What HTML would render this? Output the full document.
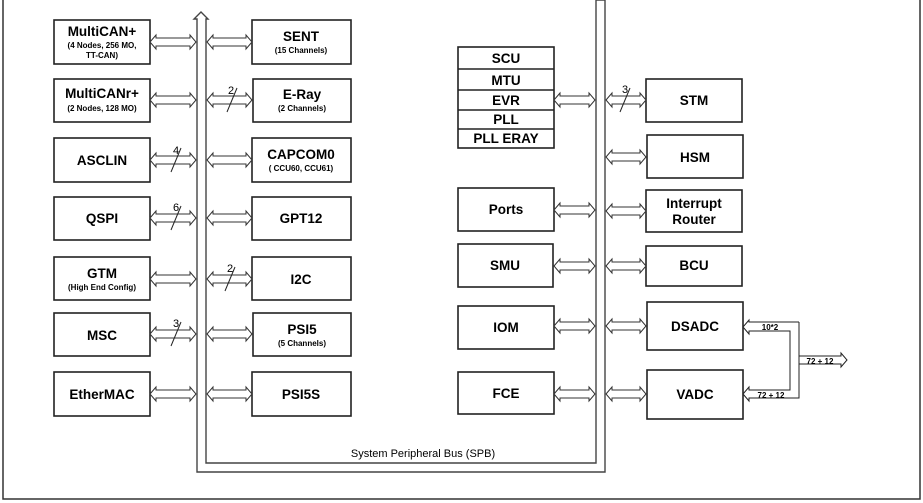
<!DOCTYPE html>
<html><head><meta charset="utf-8"><style>
html,body{margin:0;padding:0;background:#fff;}
svg{display:block;font-family:"Liberation Sans",Arial,sans-serif;}
.b{fill:#fff;stroke:#222;stroke-width:1.6}
.t{font-weight:bold;font-size:13.5px;text-anchor:middle;fill:#000}
.s{font-weight:bold;font-size:8px;text-anchor:middle;fill:#000}
.a{fill:#fff;stroke:#333;stroke-width:1}
.n{font-size:11px;text-anchor:middle;fill:#000}
</style></head><body>
<svg width="923" height="503" viewBox="0 0 923 503">
<polyline points="3,0 3,499 920,499 920,0" fill="none" stroke="#333" stroke-width="1.5"/>
<!-- bus -->
<polygon points="197,472 197,19 194,19 201,12 208,19 206,19 206,463 596,463 596,0 605,0 605,472" fill="#fff" stroke="#444" stroke-width="1.4"/>
<text x="423" y="457" font-size="11" text-anchor="middle">System Peripheral Bus (SPB)</text>

<!-- left column boxes -->
<rect class="b" x="54" y="20" width="96" height="44"/><text class="t" x="102" y="36">MultiCAN+</text><text class="s" x="102" y="48">(4 Nodes, 256 MO,</text><text class="s" x="102" y="58">TT-CAN)</text>
<rect class="b" x="54" y="79" width="96" height="43"/><text class="t" x="102" y="98">MultiCANr+</text><text class="s" x="102" y="111">(2 Nodes, 128 MO)</text>
<rect class="b" x="54" y="138" width="96" height="44"/><text class="t" x="102" y="165">ASCLIN</text>
<rect class="b" x="54" y="197" width="96" height="43"/><text class="t" x="102" y="223">QSPI</text>
<rect class="b" x="54" y="257" width="96" height="43"/><text class="t" x="102" y="278">GTM</text><text class="s" x="102" y="290">(High End Config)</text>
<rect class="b" x="54" y="313" width="96" height="43"/><text class="t" x="102" y="340">MSC</text>
<rect class="b" x="54" y="372" width="96" height="44"/><text class="t" x="102" y="399">EtherMAC</text>

<!-- second column -->
<rect class="b" x="252" y="20" width="99" height="44"/><text class="t" x="301" y="41">SENT</text><text class="s" x="301" y="53">(15 Channels)</text>
<rect class="b" x="253" y="79" width="98" height="43"/><text class="t" x="302" y="99">E-Ray</text><text class="s" x="302" y="111">(2 Channels)</text>
<rect class="b" x="252" y="138" width="99" height="44"/><text class="t" x="301" y="159">CAPCOM0</text><text class="s" x="301" y="171">( CCU60, CCU61)</text>
<rect class="b" x="252" y="197" width="99" height="43"/><text class="t" x="301" y="223">GPT12</text>
<rect class="b" x="252" y="257" width="99" height="43"/><text class="t" x="301" y="284">I2C</text>
<rect class="b" x="253" y="313" width="98" height="43"/><text class="t" x="302" y="334">PSI5</text><text class="s" x="302" y="346">(5 Channels)</text>
<rect class="b" x="252" y="372" width="99" height="44"/><text class="t" x="301" y="399">PSI5S</text>

<!-- SCU stack -->
<rect class="b" x="458" y="47" width="96" height="101"/>
<line x1="458" y1="69" x2="554" y2="69" stroke="#222" stroke-width="1.6"/>
<line x1="458" y1="90" x2="554" y2="90" stroke="#222" stroke-width="1.6"/>
<line x1="458" y1="110" x2="554" y2="110" stroke="#222" stroke-width="1.6"/>
<line x1="458" y1="129" x2="554" y2="129" stroke="#222" stroke-width="1.6"/>
<text class="t" x="506" y="63">SCU</text><text class="t" x="506" y="85">MTU</text><text class="t" x="506" y="105">EVR</text><text class="t" x="506" y="124">PLL</text><text class="t" x="506" y="143">PLL ERAY</text>

<rect class="b" x="458" y="188" width="96" height="43"/><text class="t" x="506" y="214">Ports</text>
<rect class="b" x="458" y="244" width="95" height="43"/><text class="t" x="505" y="270">SMU</text>
<rect class="b" x="458" y="306" width="96" height="43"/><text class="t" x="506" y="332">IOM</text>
<rect class="b" x="458" y="372" width="96" height="42"/><text class="t" x="506" y="398">FCE</text>

<!-- right column -->
<rect class="b" x="646" y="79" width="96" height="43"/><text class="t" x="694" y="105">STM</text>
<rect class="b" x="647" y="135" width="96" height="43"/><text class="t" x="695" y="162">HSM</text>
<rect class="b" x="646" y="190" width="96" height="42"/><text class="t" x="694" y="208">Interrupt</text><text class="t" x="694" y="224">Router</text>
<rect class="b" x="646" y="246" width="96" height="40"/><text class="t" x="694" y="270">BCU</text>
<rect class="b" x="647" y="302" width="96" height="48"/><text class="t" x="695" y="331">DSADC</text>
<rect class="b" x="647" y="370" width="96" height="49"/><text class="t" x="695" y="399">VADC</text>

<!-- arrows left column (150-196) -->
<g class="a">
<polygon points="150,42 156,35 156,38 190,38 190,35 196,42 190,49 190,46 156,46 156,49"/>
<polygon points="150,100 156,93 156,96 190,96 190,93 196,100 190,107 190,104 156,104 156,107"/>
<polygon points="150,160 156,153 156,156 190,156 190,153 196,160 190,167 190,164 156,164 156,167"/>
<polygon points="150,218 156,211 156,214 190,214 190,211 196,218 190,225 190,222 156,222 156,225"/>
<polygon points="150,279 156,272 156,275 190,275 190,272 196,279 190,286 190,283 156,283 156,286"/>
<polygon points="150,334 156,327 156,330 190,330 190,327 196,334 190,341 190,338 156,338 156,341"/>
<polygon points="150,394 156,387 156,390 190,390 190,387 196,394 190,401 190,398 156,398 156,401"/>
<!-- second column (207-252) -->
<polygon points="207,42 213,35 213,38 246,38 246,35 252,42 246,49 246,46 213,46 213,49"/>
<polygon points="207,100 213,93 213,96 246,96 246,93 252,100 246,107 246,104 213,104 213,107"/>
<polygon points="207,160 213,153 213,156 246,156 246,153 252,160 246,167 246,164 213,164 213,167"/>
<polygon points="207,218 213,211 213,214 246,214 246,211 252,218 246,225 246,222 213,222 213,225"/>
<polygon points="207,279 213,272 213,275 246,275 246,272 252,279 246,286 246,283 213,283 213,286"/>
<polygon points="207,334 213,327 213,330 246,330 246,327 252,334 246,341 246,338 213,338 213,341"/>
<polygon points="207,394 213,387 213,390 246,390 246,387 252,394 246,401 246,398 213,398 213,401"/>
<!-- SCU side (554-595) -->
<polygon points="554,100 560,93 560,96 589,96 589,93 595,100 589,107 589,104 560,104 560,107"/>
<polygon points="554,210 560,203 560,206 589,206 589,203 595,210 589,217 589,214 560,214 560,217"/>
<polygon points="554,266 560,259 560,262 589,262 589,259 595,266 589,273 589,270 560,270 560,273"/>
<polygon points="554,326 560,319 560,322 589,322 589,319 595,326 589,333 589,330 560,330 560,333"/>
<polygon points="554,394 560,387 560,390 589,390 589,387 595,394 589,401 589,398 560,398 560,401"/>
<!-- right side (606-646) -->
<polygon points="606,100 612,93 612,96 640,96 640,93 646,100 640,107 640,104 612,104 612,107"/>
<polygon points="606,157 612,150 612,153 640,153 640,150 646,157 640,164 640,161 612,161 612,164"/>
<polygon points="606,211 612,204 612,207 640,207 640,204 646,211 640,218 640,215 612,215 612,218"/>
<polygon points="606,266 612,259 612,262 640,262 640,259 646,266 640,273 640,270 612,270 612,273"/>
<polygon points="606,326 612,319 612,322 640,322 640,319 646,326 640,333 640,330 612,330 612,333"/>
<polygon points="606,394 612,387 612,390 640,390 640,387 646,394 640,401 640,398 612,398 612,401"/>
</g>

<!-- slashes -->
<g stroke="#222" stroke-width="1">
<line x1="227" y1="112" x2="237" y2="88"/>
<line x1="171" y1="172" x2="181" y2="148"/>
<line x1="171" y1="230" x2="181" y2="206"/>
<line x1="225" y1="291" x2="235" y2="267"/>
<line x1="171" y1="346" x2="181" y2="322"/>
<line x1="620" y1="112" x2="630" y2="88"/>
</g>
<text class="n" x="231" y="94">2</text>
<text class="n" x="176" y="154">4</text>
<text class="n" x="176" y="211">6</text>
<text class="n" x="230" y="272">2</text>
<text class="n" x="176" y="327">3</text>
<text class="n" x="625" y="93">3</text>

<!-- ADC bus -->
<polyline points="799,322 749,322 749,320 743,327 749,334 749,331 790,331 790,390 749,390 749,387 743,394 749,401 749,398 799,398 799,322" fill="#fff" stroke="#222" stroke-width="1"/>
<polygon points="799,356 841,356 841,353 847,360 841,367 841,364 799,364" fill="#fff" stroke="#222" stroke-width="1"/>
<text x="770" y="330" font-size="8" font-weight="bold" text-anchor="middle">10*2</text>
<text x="771" y="398" font-size="8" font-weight="bold" text-anchor="middle">72 + 12</text>
<text x="820" y="364" font-size="8" font-weight="bold" text-anchor="middle">72 + 12</text>
</svg>
</body></html>
